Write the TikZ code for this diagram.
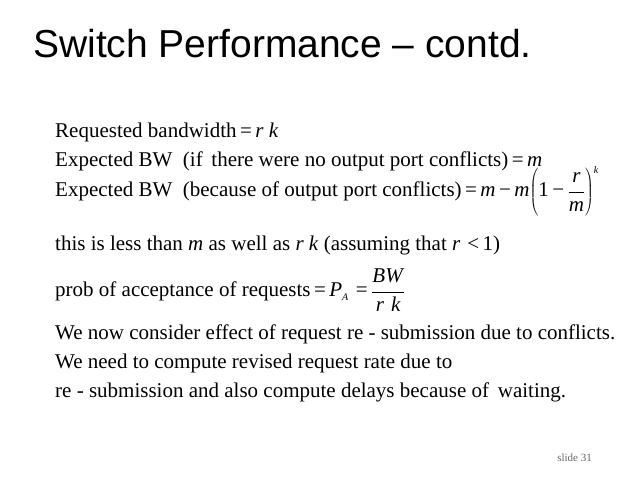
\documentclass[tikz,border=0pt]{standalone}
\usepackage{fontspec}
\setmainfont{Liberation Serif}
\newfontfamily\titlefont{Liberation Sans}
\newcommand{\vi}[1]{\textit{#1}}
\begin{document}
\begin{tikzpicture}[x=1pt,y=-1pt]
\tikzset{body/.style={anchor=base west,inner sep=0,font=\fontsize{21}{23}\selectfont}}
\useasboundingbox (0,0) rectangle (638,478);
\node[anchor=base west,inner sep=0,font=\titlefont\fontsize{39}{42}\selectfont] (title) at (33,58) {Switch Performance – contd.};
\node[body] (l1) at (55,138) {Requested bandwidth\,=\,\vi{r k}};
\node[body] (l2) at (55,167) {Expected BW\enspace(if\, there were no output port conflicts)\,=\,\vi{m}};
\node[body] (l3) at (55,197) {Expected BW\enspace(because of output port conflicts)\,=\,\vi{m}\,−\,\vi{m}$\displaystyle\left(\vphantom{\frac{\mbox{\vi{r}}}{\mbox{\vi{m}\strut}}}\mbox{1}\,−\,\frac{\mbox{\vi{r}}}{\mbox{\vi{m}}}\right)^{\mbox{\fontsize{10}{10}\selectfont\vi{k}}}$};
\node[body] (l4) at (55,251) {this is less than \vi{m} as well as \vi{r k} (assuming that \vi{r}\,\,<\,1)};
\node[body] (l5) at (55,297) {prob of acceptance of requests\,=\,\vi{P}\textsubscript{\fontsize{10}{10}\selectfont\vi{A}}\,\,=\,$\displaystyle\frac{\mbox{\vi{BW}}}{\mbox{\vi{r}\,\,\vi{k}}}$};
\node[body] (l6) at (55,340) {We now consider effect of request re - submission due to conflicts.};
\node[body] (l7) at (55,369) {We need to compute revised request rate due to};
\node[body] (l8) at (55,398) {re - submission and also compute delays because of\, waiting.};
\node[anchor=base east,inner sep=0,font=\fontsize{11}{12}\selectfont,text=gray!80!black] (slide) at (592,462) {slide 31};
\end{tikzpicture}
\end{document}
